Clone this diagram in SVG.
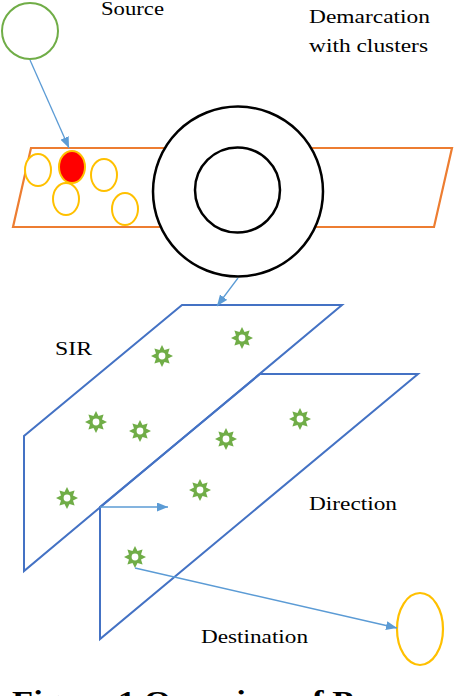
<svg xmlns="http://www.w3.org/2000/svg" width="454" height="696" viewBox="0 0 454 696">
<style>
.lbl{font-family:"Liberation Serif","Times New Roman",serif;font-size:19.5px;fill:#000}
.cap{font-family:"Liberation Serif","Times New Roman",serif;font-size:30px;font-weight:bold;fill:#000}
.plane{fill:none;stroke:#4472C4;stroke-width:2;stroke-linejoin:miter}
.clus{fill:#fff;stroke:#FFC000;stroke-width:2}
.conn{fill:none;stroke:#5B9BD5;stroke-width:1.3}
.ring{fill:#fff;stroke:#000;stroke-width:2.5}
</style>
<defs>
<marker id="ah" viewBox="0 0 11 9" refX="11" refY="4.5" markerWidth="11" markerHeight="9" markerUnits="userSpaceOnUse" orient="auto">
<path d="M0,0 L11,4.5 L0,9 Z" fill="#5B9BD5"/>
</marker>
<g id="star">
<path d="M0,-11 L2.5,-6 L7.6,-7.6 L6,-2.5 L11,0 L6,2.5 L7.6,7.6 L2.5,6 L0,11 L-2.5,6 L-7.6,7.6 L-6,2.5 L-11,0 L-6,-2.5 L-7.6,-7.6 L-2.5,-6 Z" fill="#70AD47"/>
<circle r="3.4" fill="#fff"/>
</g>
</defs>
<rect width="454" height="696" fill="#fff"/>

<g id="source">
<circle cx="30" cy="31" r="28" fill="none" stroke="#70AD47" stroke-width="2"/>
<text class="lbl" x="101" y="15" textLength="63" lengthAdjust="spacingAndGlyphs">Source</text>
</g>

<g id="demarcation">
<polygon points="31,148 452,148 434,227 13,227" fill="none" stroke="#ED7D31" stroke-width="2.2"/>
<ellipse class="clus" cx="38" cy="170" rx="13" ry="16"/>
<ellipse cx="72" cy="167" rx="13" ry="16" fill="#FF0000" stroke="#FFC000" stroke-width="2"/>
<ellipse class="clus" cx="104" cy="175" rx="13" ry="16"/>
<ellipse class="clus" cx="66" cy="199" rx="13" ry="16"/>
<ellipse class="clus" cx="125" cy="209" rx="13" ry="16"/>
<text class="lbl" x="309" y="23" textLength="121" lengthAdjust="spacingAndGlyphs">Demarcation</text>
<text class="lbl" x="309" y="52" textLength="119" lengthAdjust="spacingAndGlyphs">with clusters</text>
</g>

<g id="rings">
<circle class="ring" cx="238" cy="191.5" r="85"/>
<circle class="ring" cx="237.5" cy="190" r="42.5"/>
</g>

<g id="sir">
<polygon class="plane" points="182,305 342,305 24,571 24,436"/>
<text class="lbl" x="55" y="355" textLength="37" lengthAdjust="spacingAndGlyphs">SIR</text>
</g>

<g id="direction">
<polygon class="plane" points="260,374 418,374 100,639 100,507"/>
<text class="lbl" x="309" y="510" textLength="88" lengthAdjust="spacingAndGlyphs">Direction</text>
</g>

<g id="nodes">
<use id="n1" href="#star" x="242" y="338"/>
<use id="n2" href="#star" x="162" y="356"/>
<use id="n3" href="#star" x="96" y="422"/>
<use id="n4" href="#star" x="140" y="431"/>
<use id="n5" href="#star" x="300" y="419"/>
<use id="n6" href="#star" x="226" y="439"/>
<use id="n7" href="#star" x="200" y="490"/>
<use id="n8" href="#star" x="67" y="498"/>
<use id="n9" href="#star" x="135" y="557"/>
</g>

<g id="destination">
<ellipse cx="420" cy="629" rx="23" ry="36" fill="none" stroke="#FFC000" stroke-width="2.2"/>
<text class="lbl" x="201" y="643" textLength="107" lengthAdjust="spacingAndGlyphs">Destination</text>
</g>

<g id="connectors">
<line class="conn" x1="30" y1="60" x2="69" y2="148" marker-end="url(#ah)"/>
<line class="conn" x1="238" y1="278" x2="217" y2="306" marker-end="url(#ah)"/>
<line class="conn" x1="100" y1="507" x2="168" y2="507" marker-end="url(#ah)"/>
<line class="conn" x1="135" y1="568" x2="397" y2="628" marker-end="url(#ah)"/>
</g>

<g id="caption">
<text class="cap" x="12" y="711" textLength="458" lengthAdjust="spacingAndGlyphs">Figure 1 Overview of Proposed</text>
</g>
</svg>
